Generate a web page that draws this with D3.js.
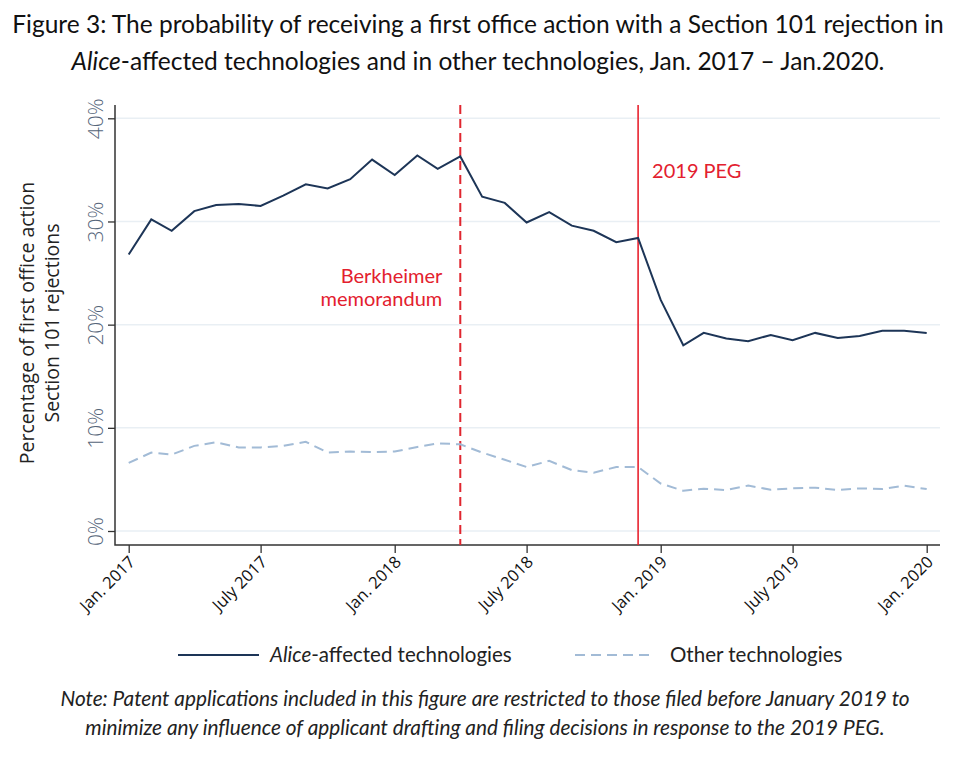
<!DOCTYPE html>
<html>
<head>
    <meta charset="utf-8">
    <title>Figure 3</title>
    <script src="https://d3js.org/d3.v7.min.js"></script>
    <style>
        body { margin: 0; background: #fff; }
        svg { display: block; }
        .title { font-family: Lato, "Noto Sans", sans-serif; font-size: 24.5px; fill: #111; }
        .ylab { font-family: "Open Sans", "Noto Sans", sans-serif; font-size: 19.5px; fill: #222; }
        .ytick text { font-family: "Open Sans", sans-serif; font-weight: 300; font-size: 21px; fill: #55657a; }
        .xtick text { font-family: "Open Sans", sans-serif; font-size: 16.5px; fill: #111; }
        .annot { font-family: Lato, "Noto Sans", sans-serif; font-size: 20px; fill: #e3202e; }
        .legend { font-family: Lato, "Noto Sans", sans-serif; font-size: 20.5px; fill: #222; }
        .note { font-family: Lato, "Noto Sans", sans-serif; font-style: italic; font-size: 20.8px; fill: #222; }
    </style>
</head>
<body>
<div id="chart"></div>
<script>
    // monthly series, Jan. 2017 - Jan. 2020 (percent)
    const months = d3.timeMonth.range(new Date(2017, 0, 1), new Date(2020, 0, 2));
    const alice = [26.8, 30.2, 29.1, 31.0, 31.6, 31.7, 31.5, 32.5, 33.6, 33.2, 34.1, 36.0,
                   34.5, 36.4, 35.1, 36.3, 32.4, 31.8, 29.9, 30.9, 29.6, 29.1, 28.0, 28.4,
                   22.4, 18.0, 19.2, 18.65, 18.4, 19.0, 18.5, 19.2, 18.7, 18.9, 19.4, 19.4,
                   19.2];
    const other = [6.6, 7.6, 7.4, 8.25, 8.6, 8.1, 8.1, 8.25, 8.65, 7.6, 7.7, 7.65,
                   7.7, 8.15, 8.5, 8.4, 7.6, 6.9, 6.2, 6.8, 5.9, 5.65, 6.2, 6.2,
                   4.6, 3.9, 4.1, 3.97, 4.4, 4.0, 4.13, 4.2, 3.97, 4.13, 4.06, 4.4,
                   4.06];
    const yTicks = [0, 10, 20, 30, 40];
    const xTicks = [new Date(2017, 0, 1), new Date(2017, 6, 1), new Date(2018, 0, 1),
                    new Date(2018, 6, 1), new Date(2019, 0, 1), new Date(2019, 6, 1),
                    new Date(2020, 0, 1)];
    const xTickLabels = ['Jan. 2017', 'July 2017', 'Jan. 2018', 'July 2018',
                         'Jan. 2019', 'July 2019', 'Jan. 2020'];
    const berkheimer = new Date(2018, 3, 1);
    const peg = new Date(2018, 11, 1);

    const width = 970, height = 762;
    const svg = d3.select('#chart').append('svg')
        .attr('width', width)
        .attr('height', height);

    const frame = { left: 115, right: 940, top: 105, bottom: 545 };

    const x = d3.scaleTime()
        .domain([new Date(2017, 0, 1), new Date(2020, 0, 1)])
        .range([128.7, 926.7]);
    const y = d3.scaleLinear()
        .domain([0, 40])
        .range([531, 118.3]);

    // title
    const title = svg.append('text').attr('class', 'title').attr('text-anchor', 'middle');
    title.append('tspan').attr('x', 478).attr('y', 33)
        .text('Figure 3: The probability of receiving a first office action with a Section 101 rejection in');
    const t2 = title.append('tspan').attr('x', 478).attr('y', 70);
    t2.append('tspan').attr('font-style', 'italic').text('Alice');
    t2.append('tspan').text('-affected technologies and in other technologies, Jan. 2017 \u2013 Jan.2020.');

    // gridlines
    svg.append('g')
        .selectAll('line')
        .data(yTicks)
        .join('line')
        .attr('x1', frame.left).attr('x2', frame.right)
        .attr('y1', d => y(d)).attr('y2', d => y(d))
        .attr('stroke', '#e9eff4')
        .attr('stroke-width', 1.5);

    // y axis
    const yAxis = svg.append('g')
        .attr('class', 'ytick')
        .attr('transform', `translate(${frame.left},0)`)
        .call(d3.axisLeft(y).tickValues(yTicks).tickSize(7).tickPadding(0).tickFormat(d => d + '%'));
    yAxis.select('.domain').remove();
    yAxis.selectAll('.tick line').attr('stroke', '#333').attr('stroke-width', 1.3);
    yAxis.selectAll('.tick text')
        .attr('x', 0).attr('dy', 0)
        .attr('text-anchor', 'middle')
        .attr('transform', 'translate(-12,0) rotate(-90)');

    // x axis
    const xAxis = svg.append('g')
        .attr('class', 'xtick')
        .attr('transform', `translate(0,${frame.bottom})`)
        .call(d3.axisBottom(x).tickValues(xTicks).tickSize(8)
            .tickFormat((d, i) => xTickLabels[i]));
    xAxis.select('.domain').remove();
    xAxis.selectAll('.tick line').attr('stroke', '#333').attr('stroke-width', 1.3);
    xAxis.selectAll('.tick text')
        .attr('x', 0).attr('y', 0).attr('dy', 0)
        .attr('text-anchor', 'end')
        .attr('transform', 'translate(7,18) rotate(-45)');

    // frame
    svg.append('path')
        .attr('d', `M${frame.left},${frame.top}V${frame.bottom}H${frame.right}`)
        .attr('fill', 'none')
        .attr('stroke', '#333')
        .attr('stroke-width', 1.5);

    // y label
    const ylab = svg.append('text').attr('class', 'ylab')
        .attr('text-anchor', 'middle')
        .attr('transform', 'translate(0,323) rotate(-90)');
    ylab.append('tspan').attr('x', 0).attr('y', 34).text('Percentage of first office action');
    ylab.append('tspan').attr('x', 0).attr('y', 59).text('Section 101 rejections');

    // event lines
    svg.append('line')
        .attr('x1', x(berkheimer)).attr('x2', x(berkheimer))
        .attr('y1', frame.top).attr('y2', frame.bottom)
        .attr('stroke', '#e0262f').attr('stroke-width', 2)
        .attr('stroke-dasharray', '9,5');
    svg.append('line')
        .attr('x1', x(peg)).attr('x2', x(peg))
        .attr('y1', frame.top).attr('y2', frame.bottom)
        .attr('stroke', '#e8232f').attr('stroke-width', 1.6);

    const berk = svg.append('text').attr('class', 'annot').attr('text-anchor', 'end');
    berk.append('tspan').attr('x', x(berkheimer) - 18).attr('y', 283).text('Berkheimer');
    berk.append('tspan').attr('x', x(berkheimer) - 18).attr('y', 306).text('memorandum');
    svg.append('text').attr('class', 'annot')
        .attr('x', x(peg) + 14).attr('y', 178)
        .text('2019 PEG');

    // series
    const line = d3.line()
        .x((d, i) => x(months[i]))
        .y(d => y(d));

    svg.append('path')
        .datum(other)
        .attr('d', line)
        .attr('fill', 'none')
        .attr('stroke', '#a2bbd6')
        .attr('stroke-width', 2)
        .attr('stroke-dasharray', '10,6');

    svg.append('path')
        .datum(alice)
        .attr('d', line)
        .attr('fill', 'none')
        .attr('stroke', '#1d3557')
        .attr('stroke-width', 2);

    // legend
    const lg = svg.append('g');
    lg.append('line')
        .attr('x1', 178).attr('x2', 259).attr('y1', 655).attr('y2', 655)
        .attr('stroke', '#1d3557').attr('stroke-width', 2);
    const lt = lg.append('text').attr('class', 'legend').attr('x', 270).attr('y', 662);
    lt.append('tspan').attr('font-style', 'italic').text('Alice');
    lt.append('tspan').text('-affected technologies');
    lg.append('line')
        .attr('x1', 575).attr('x2', 655).attr('y1', 655).attr('y2', 655)
        .attr('stroke', '#a2bbd6').attr('stroke-width', 2)
        .attr('stroke-dasharray', '10,6');
    lg.append('text').attr('class', 'legend').attr('x', 670).attr('y', 662)
        .text('Other technologies');

    // note
    const note = svg.append('text').attr('class', 'note').attr('text-anchor', 'middle');
    note.append('tspan').attr('x', 485).attr('y', 706)
        .text('Note: Patent applications included in this figure are restricted to those filed before January 2019 to');
    note.append('tspan').attr('x', 485).attr('y', 735)
        .text('minimize any influence of applicant drafting and filing decisions in response to the 2019 PEG.');
</script>
</body>
</html>
